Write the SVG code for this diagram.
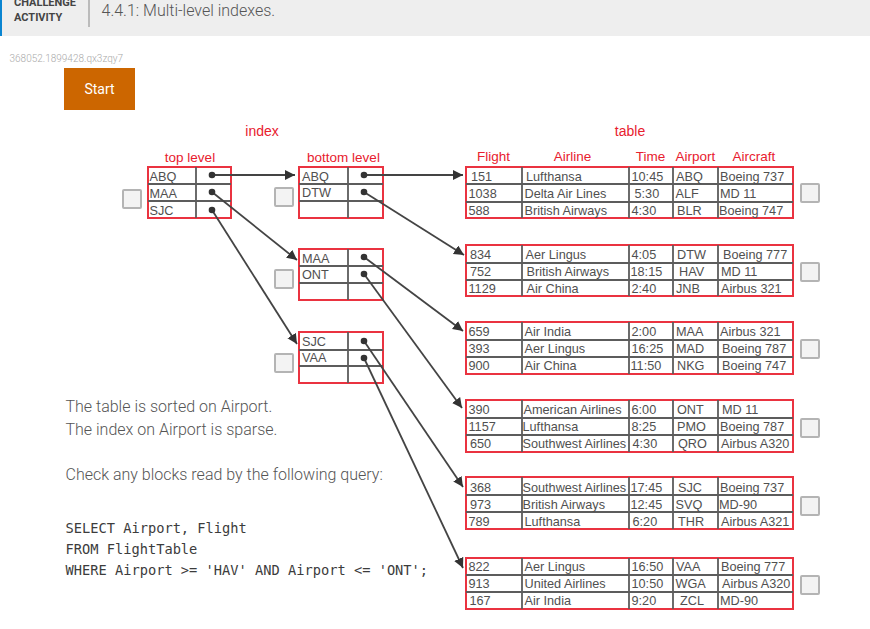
<svg xmlns="http://www.w3.org/2000/svg" width="870" height="629" viewBox="0 0 870 629">
<style>
text{font-family:"Liberation Sans",Arial,sans-serif}
.c{font-size:12.7px;fill:#505050}
.r{font-size:13.5px;fill:#e8202e;text-anchor:middle}
.b{fill:#fff;stroke:#ea3340;stroke-width:2}
.g{stroke:#5c5c5c;stroke-width:1.8;fill:none}
.k{fill:#f3f3f3;stroke:#b4b4b4;stroke-width:2;rx:1}
.l{stroke:#444;stroke-width:1.8;fill:none;marker-end:url(#a)}
.d{fill:#333}
.p{font-family:Roboto,sans-serif;font-weight:300;font-size:16px;fill:#555}
.m{font-family:"DejaVu Sans Mono",monospace;font-size:13.7px;fill:#3c3c3c}
</style>
<defs><marker id="a" markerUnits="userSpaceOnUse" markerWidth="12" markerHeight="12" refX="10" refY="5" orient="auto"><path d="M0 0L10 5L0 10Z" fill="#333"/></marker></defs>
<g id="header">
<rect x="0" y="0" width="870" height="36" fill="#eee"/>
<rect x="0" y="0" width="2" height="36" fill="#0a85d1"/>
<rect x="88" y="0" width="2" height="27" fill="#bbb"/>
<text x="14" y="6" font-size="11" font-weight="700" fill="#444" style="font-family:Roboto,sans-serif">CHALLENGE</text>
<text x="14" y="21" font-size="11" font-weight="700" fill="#444" style="font-family:Roboto,sans-serif">ACTIVITY</text>
<text x="101.500" y="16" font-size="16" font-weight="300" fill="#555" style="font-family:Roboto,sans-serif">4.4.1: Multi-level indexes.</text>
</g>
<text x="9.500" y="62" font-size="10" font-weight="300" fill="#aaa" style="font-family:Roboto,sans-serif">368052.1899428.qx3zqy7</text>
<g id="start">
<rect x="64" y="68" width="71" height="42" fill="#cc6600"/>
<text x="99.500" y="94" font-size="14" fill="#fff" text-anchor="middle" style="font-family:Roboto,sans-serif">Start</text>
</g>
<g id="titles">
<text class="r" x="262" y="136" style="font-size:14px">index</text>
<text class="r" x="630" y="136" style="font-size:14px">table</text>
<text class="r" x="190" y="162">top level</text>
<text class="r" x="343.500" y="162">bottom level</text>
<text class="r" x="493.500" y="161">Flight</text>
<text class="r" x="572.500" y="161">Airline</text>
<text class="r" x="650.500" y="161">Time</text>
<text class="r" x="695.500" y="161">Airport</text>
<text class="r" x="754" y="161">Aircraft</text>
</g>
<g id="idx-top">
<rect class="b" x="148" y="167" width="83" height="51"/>
<path class="g" d="M148 184H231M148 201H231M196 167V218"/>
<text class="c" x="149.500" y="181">ABQ</text><text class="c" x="149.500" y="198">MAA</text><text class="c" x="149.500" y="215">SJC</text>
<rect class="k" x="123" y="190" width="18" height="18"/>
</g>
<g id="idx-b1">
<rect class="b" x="299" y="167" width="84" height="51"/>
<path class="g" d="M299 184H383M299 201H383M348 167V218"/>
<text class="c" x="302" y="181">ABQ</text><text class="c" x="302" y="197">DTW</text>
<rect class="k" x="275" y="188" width="18" height="18"/>
</g>
<g id="idx-b2">
<rect class="b" x="299" y="249" width="84" height="51"/>
<path class="g" d="M299 266H383M299 283H383M348 249V300"/>
<text class="c" x="302" y="263">MAA</text><text class="c" x="302" y="279">ONT</text>
<rect class="k" x="275" y="270" width="18" height="18"/>
</g>
<g id="idx-b3">
<rect class="b" x="299" y="332" width="84" height="51"/>
<path class="g" d="M299 350H383M299 366H383M348 332V383"/>
<text class="c" x="302" y="346">SJC</text><text class="c" x="302" y="362">VAA</text>
<rect class="k" x="275" y="354" width="18" height="18"/>
</g>
<g id="tbl-1">
<rect class="b" x="466" y="167" width="327" height="51"/>
<path class="g" d="M466 184H793M466 202H793M522 167V218M629 167V218M673 167V218M718 167V218"/>
<text class="c" x="471" y="181">151</text><text class="c" x="526" y="181">Lufthansa</text><text class="c" x="631.500" y="181">10:45</text><text class="c" x="676" y="181">ABQ</text><text class="c" x="720" y="181">Boeing 737</text>
<text class="c" x="468.500" y="198">1038</text><text class="c" x="524.500" y="198">Delta Air Lines</text><text class="c" x="634.500" y="198">5:30</text><text class="c" x="675.500" y="198">ALF</text><text class="c" x="720" y="198">MD 11</text>
<text class="c" x="468.500" y="215">588</text><text class="c" x="524.500" y="215">British Airways</text><text class="c" x="631.500" y="215">4:30</text><text class="c" x="677" y="215">BLR</text><text class="c" x="719" y="215">Boeing 747</text>
<rect class="k" x="801" y="184" width="18" height="18"/>
</g>
<g id="tbl-2">
<rect class="b" x="466" y="245" width="327" height="51"/>
<path class="g" d="M466 263H793M466 280H793M522 245V296M629 245V296M673 245V296M718 245V296"/>
<text class="c" x="470" y="259">834</text><text class="c" x="525.500" y="259">Aer Lingus</text><text class="c" x="631.500" y="259">4:05</text><text class="c" x="677" y="259">DTW</text><text class="c" x="723" y="259">Boeing 777</text>
<text class="c" x="470" y="276">752</text><text class="c" x="526.500" y="276">British Airways</text><text class="c" x="630.500" y="276">18:15</text><text class="c" x="679" y="276">HAV</text><text class="c" x="721" y="276">MD 11</text>
<text class="c" x="468.500" y="293">1129</text><text class="c" x="526.500" y="293">Air China</text><text class="c" x="631.500" y="293">2:40</text><text class="c" x="676" y="293">JNB</text><text class="c" x="721" y="293">Airbus 321</text>
<rect class="k" x="801" y="263" width="18" height="18"/>
</g>
<g id="tbl-3">
<rect class="b" x="466" y="322" width="327" height="52"/>
<path class="g" d="M466 340H793M466 357H793M522 322V374M629 322V374M673 322V374M718 322V374"/>
<text class="c" x="468.500" y="336">659</text><text class="c" x="524.500" y="336">Air India</text><text class="c" x="631.500" y="336">2:00</text><text class="c" x="676" y="336">MAA</text><text class="c" x="720" y="336">Airbus 321</text>
<text class="c" x="468.500" y="353">393</text><text class="c" x="524.500" y="353">Aer Lingus</text><text class="c" x="631.500" y="353">16:25</text><text class="c" x="676" y="353">MAD</text><text class="c" x="722" y="353">Boeing 787</text>
<text class="c" x="468.500" y="370">900</text><text class="c" x="524.500" y="370">Air China</text><text class="c" x="630.500" y="370">11:50</text><text class="c" x="677" y="370">NKG</text><text class="c" x="722" y="370">Boeing 747</text>
<rect class="k" x="801" y="340" width="18" height="18"/>
</g>
<g id="tbl-4">
<rect class="b" x="466" y="400" width="327" height="52"/>
<path class="g" d="M466 418H793M466 435H793M522 400V452M629 400V452M673 400V452M718 400V452"/>
<text class="c" x="468.500" y="414">390</text><text class="c" x="523.500" y="414">American Airlines</text><text class="c" x="631.500" y="414">6:00</text><text class="c" x="677" y="414">ONT</text><text class="c" x="722" y="414">MD 11</text>
<text class="c" x="468.500" y="431">1157</text><text class="c" x="522.500" y="431">Lufthansa</text><text class="c" x="631.500" y="431">8:25</text><text class="c" x="677" y="431">PMO</text><text class="c" x="720" y="431">Boeing 787</text>
<text class="c" x="470" y="448">650</text><text class="c" x="522.500" y="448">Southwest Airlines</text><text class="c" x="632.500" y="448">4:30</text><text class="c" x="678" y="448">QRO</text><text class="c" x="721" y="448">Airbus A320</text>
<rect class="k" x="801" y="419" width="18" height="18"/>
</g>
<g id="tbl-5">
<rect class="b" x="466" y="477" width="327" height="52"/>
<path class="g" d="M466 495H793M466 512H793M522 477V529M629 477V529M673 477V529M718 477V529"/>
<text class="c" x="470" y="492">368</text><text class="c" x="522.500" y="492">Southwest Airlines</text><text class="c" x="630.500" y="492">17:45</text><text class="c" x="678" y="492">SJC</text><text class="c" x="720" y="492">Boeing 737</text>
<text class="c" x="470" y="509">973</text><text class="c" x="522.500" y="509">British Airways</text><text class="c" x="630.500" y="509">12:45</text><text class="c" x="675.500" y="509">SVQ</text><text class="c" x="719" y="509">MD-90</text>
<text class="c" x="468.500" y="526">789</text><text class="c" x="524.500" y="526">Lufthansa</text><text class="c" x="632.500" y="526">6:20</text><text class="c" x="678" y="526">THR</text><text class="c" x="721" y="526">Airbus A321</text>
<rect class="k" x="801" y="497" width="18" height="18"/>
</g>
<g id="tbl-6">
<rect class="b" x="466" y="558" width="327" height="51"/>
<path class="g" d="M466 575H793M466 592H793M522 558V609M629 558V609M673 558V609M718 558V609"/>
<text class="c" x="468.500" y="571">822</text><text class="c" x="524.500" y="571">Aer Lingus</text><text class="c" x="631.500" y="571">16:50</text><text class="c" x="676" y="571">VAA</text><text class="c" x="721" y="571">Boeing 777</text>
<text class="c" x="468.500" y="588">913</text><text class="c" x="524.500" y="588">United Airlines</text><text class="c" x="631.500" y="588">10:50</text><text class="c" x="675.500" y="588">WGA</text><text class="c" x="722" y="588">Airbus A320</text>
<text class="c" x="469.500" y="605">167</text><text class="c" x="524.500" y="605">Air India</text><text class="c" x="631.500" y="605">9:20</text><text class="c" x="680" y="605">ZCL</text><text class="c" x="720" y="605">MD-90</text>
<rect class="k" x="801" y="576" width="18" height="18"/>
</g>
<g id="connectors">
<line class="l" x1="212" y1="175" x2="295" y2="175"/>
<line class="l" x1="212" y1="192" x2="297" y2="260"/>
<line class="l" x1="212" y1="210" x2="297" y2="344"/>
<line class="l" x1="364" y1="175" x2="463" y2="175"/>
<line class="l" x1="364" y1="192" x2="464" y2="255"/>
<line class="l" x1="364" y1="257" x2="463" y2="331"/>
<line class="l" x1="364" y1="274" x2="462" y2="408"/>
<line class="l" x1="364" y1="341" x2="463" y2="487"/>
<line class="l" x1="364" y1="358" x2="463" y2="568"/>
<circle class="d" cx="212" cy="175" r="3.300"/><circle class="d" cx="212" cy="192" r="3.300"/><circle class="d" cx="212" cy="210" r="3.300"/>
<circle class="d" cx="364" cy="175" r="3.300"/><circle class="d" cx="364" cy="192" r="3.300"/><circle class="d" cx="364" cy="257" r="3.300"/><circle class="d" cx="364" cy="274" r="3.300"/><circle class="d" cx="364" cy="341" r="3.300"/><circle class="d" cx="364" cy="358" r="3.300"/>
</g>
<g id="prompt">
<text class="p" x="65.500" y="412">The table is sorted on Airport.</text>
<text class="p" x="65.500" y="435">The index on Airport is sparse.</text>
<text class="p" x="65.500" y="480">Check any blocks read by the following query:</text>
<text class="m" x="65.500" y="533">SELECT Airport, Flight</text>
<text class="m" x="65.500" y="554">FROM FlightTable</text>
<text class="m" x="65.500" y="575">WHERE Airport &gt;= 'HAV' AND Airport &lt;= 'ONT';</text>
</g>
</svg>
